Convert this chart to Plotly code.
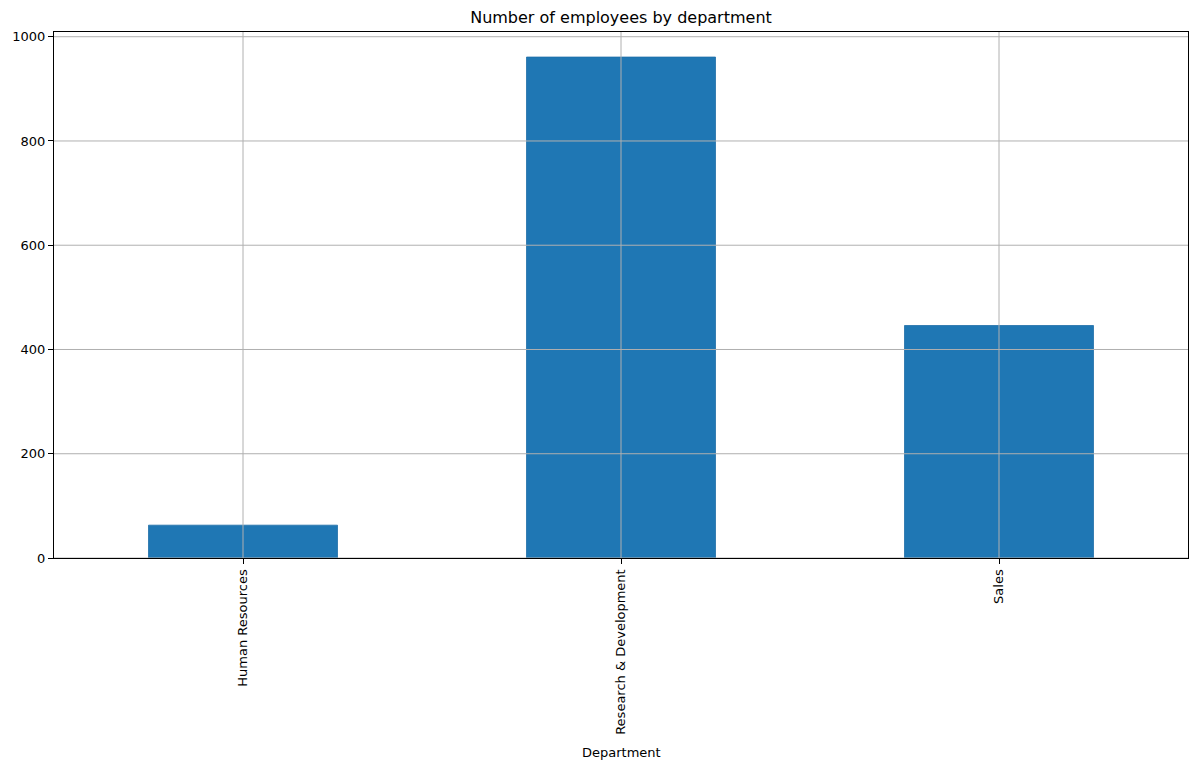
import plotly.graph_objects as go

departments = ["Human Resources", "Research & Development", "Sales"]
employee_counts = [63, 961, 446]
y_ticks = [0, 200, 400, 600, 800, 1000]

GRID = "#b0b0b0"
FONT = "DejaVu Sans"

# the page body has an 8px margin, so the figure is sized to fit around it
W, H = 1192, 762
L, R, T, B = 46, 12, 24, 212

fig = go.Figure(go.Bar(
    x=list(range(len(departments))),
    y=employee_counts,
    width=0.5,
    marker=dict(color="#1f77b4", line=dict(color="#1f6fa8", width=0.8)),
))

# matplotlib draws the grid above the bars here, so use shapes on top
shapes = []
for i in range(len(departments)):
    shapes.append(dict(type="line", xref="x", yref="paper", x0=i, x1=i, y0=0, y1=1,
                       line=dict(color=GRID, width=1), layer="above"))
for t in y_ticks:
    shapes.append(dict(type="line", xref="paper", yref="y", x0=0, x1=1, y0=t, y1=t,
                       line=dict(color=GRID, width=1), layer="above"))

plot_h = H - T - B

fig.update_layout(
    width=W,
    height=H,
    margin=dict(l=L, r=R, t=T, b=B, autoexpand=False),
    plot_bgcolor="white",
    paper_bgcolor="white",
    font=dict(family=FONT, size=13, color="black"),
    showlegend=False,
    shapes=shapes,
    title=dict(text="Number of employees by department", x=(L + (W - R)) / 2 / W,
               xanchor="center", y=1 - 9 / H, yanchor="middle", yref="container",
               font=dict(family=FONT, size=16, color="black")),
    annotations=[dict(text="Department", xref="paper", yref="paper", x=0.5, y=-194 / plot_h,
                      xanchor="center", yanchor="middle", showarrow=False,
                      font=dict(family=FONT, size=13, color="black"))],
)

fig.update_xaxes(
    range=[-0.5, 2.5],
    tickmode="array",
    tickvals=list(range(len(departments))),
    ticktext=departments,
    tickangle=-90,
    ticks="outside",
    ticklen=5,
    tickcolor="black",
    showgrid=False,
    showline=True,
    linecolor="black",
    linewidth=1.2,
    mirror=True,
    zeroline=False,
    automargin=False,
    layer="above traces",
)
fig.update_yaxes(
    range=[0, 1009.05],
    tickmode="array",
    tickvals=y_ticks,
    ticks="outside",
    ticklen=5,
    tickcolor="black",
    showgrid=False,
    showline=True,
    linecolor="black",
    linewidth=1.2,
    mirror=True,
    zeroline=False,
    automargin=False,
    layer="above traces",
)

fig.write_html("out.html")
